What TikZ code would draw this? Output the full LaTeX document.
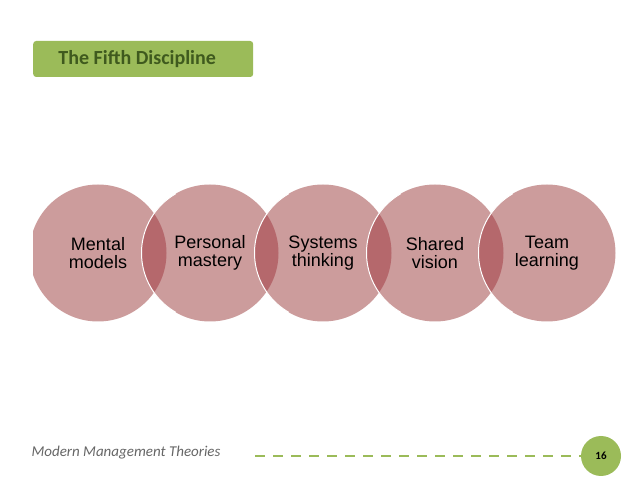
\documentclass[tikz,border=0pt]{standalone}
\usepackage{fontspec}
\setmainfont{Liberation Sans}
\newfontfamily\carlitofont{Carlito}
\begin{document}
\begin{tikzpicture}[x=1pt,y=-1pt,
  disc/.style={fill=discfill},
  lbl/.style={align=center,font=\fontsize{18}{18}\selectfont,text=black}]
\definecolor{discfill}{HTML}{CC9C9C}
\definecolor{lens}{HTML}{B5686C}
\definecolor{grn}{HTML}{9BBB59}
\definecolor{ttl}{HTML}{3F5A1E}
\useasboundingbox (0,0) rectangle (638,478);
\node[fill=grn,rounded corners=3pt,minimum width=220pt,minimum height=36pt,anchor=west,
  font=\carlitofont\bfseries\fontsize{20}{20}\selectfont,text=ttl] (title) at (33,59) {\hspace*{-12pt}The Fifth Discipline};
\begin{scope}
\clip (33,150) rectangle (638,340);
\foreach \x in {98,210,323,435,547} \fill[discfill] (\x,253) circle (68.5);
\end{scope}
\foreach \a/\b in {98/210,210/323,323/435,435/547}{
  \begin{scope}\clip (\a,253) circle (68.5); \fill[lens] (\b,253) circle (68.5);\end{scope}
  \draw[white,line width=1pt] (\b,253) ++(120:68.5) arc (120:240:68.5);
}
\node[lbl] (m) at (98,253) {Mental\\models};
\node[lbl] (p) at (210,253) {Personal\\mastery};
\node[lbl] (s) at (323,253) {Systems\\thinking};
\node[lbl] (v) at (435,253) {Shared\\vision};
\node[lbl] (t) at (547,253) {Team\\learning};
\node[anchor=west,font=\carlitofont\itshape\fontsize{15}{15}\selectfont,text=black!60] (foot) at (28,453) {Modern Management Theories};
\node[circle,fill=grn,minimum size=40pt,inner sep=0pt,font=\carlitofont\bfseries\fontsize{11}{11}\selectfont] (num) at (601,456) {16};
\coordinate (ds) at (255,456);
\draw[grn,line width=2.5pt,dash pattern=on 10pt off 8pt] (ds) -- (num.west);
\end{tikzpicture}
\end{document}
